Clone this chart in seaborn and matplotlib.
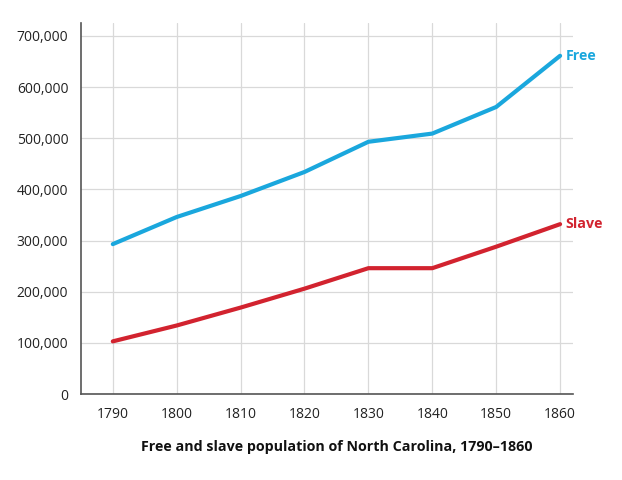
import pandas as pd
import matplotlib.pyplot as plt
import seaborn as sns

years = [1790, 1800, 1810, 1820, 1830, 1840, 1850, 1860]
free = [293000, 346000, 387000, 434000, 493000, 509000, 561000, 661000]
slave = [103000, 134000, 169000, 206000, 246000, 246000, 288000, 332000]
series_names = ['Free', 'Slave']
colors = {'Free': '#1aa7dd', 'Slave': '#d2232f'}
y_ticks = [0, 100000, 200000, 300000, 400000, 500000, 600000, 700000]
title = 'Free and slave population of North Carolina, 1790\u20131860'

df = pd.DataFrame({'Year': years * 2,
                   'Population': free + slave,
                   'Group': ['Free'] * len(years) + ['Slave'] * len(years)})

sns.set_style('white')
plt.rcParams['font.family'] = ['Open Sans', 'DejaVu Sans']

fig = plt.figure(figsize=(6.22, 4.8), dpi=100)
ax = fig.add_axes([0.130, 0.179, 0.791, 0.773])

sns.lineplot(data=df, x='Year', y='Population', hue='Group', palette=colors,
             linewidth=3.0, legend=False, ax=ax)

ax.set_xlim(1785, 1862)
ax.set_ylim(0, 725000)
ax.set_xticks(years)
ax.set_yticks(y_ticks)
ax.set_yticklabels([f'{v:,}' for v in y_ticks])
ax.grid(True, color='#d9d9d9', linewidth=0.9)
ax.set_axisbelow(True)
ax.tick_params(length=0, labelsize=10, colors='#222222', pad=9)
ax.set_xlabel('')
ax.set_ylabel('')

for side in ['top', 'right']:
    ax.spines[side].set_visible(False)
for side in ['left', 'bottom']:
    ax.spines[side].set_color('#555555')
    ax.spines[side].set_linewidth(1.2)

# labels at the end of each line
ends = {'Free': free[-1], 'Slave': slave[-1]}
for name in series_names:
    ax.annotate(name, (years[-1], ends[name]), xytext=(4, 0),
                textcoords='offset points', ha='left', va='center',
                color=colors[name], fontweight='bold', fontsize=10.3,
                annotation_clip=False)

fig.text(0.542, 0.069, title, ha='center', va='center',
         fontweight='bold', fontsize=10.3, color='#111111')

fig.savefig('out.png', dpi=100)
